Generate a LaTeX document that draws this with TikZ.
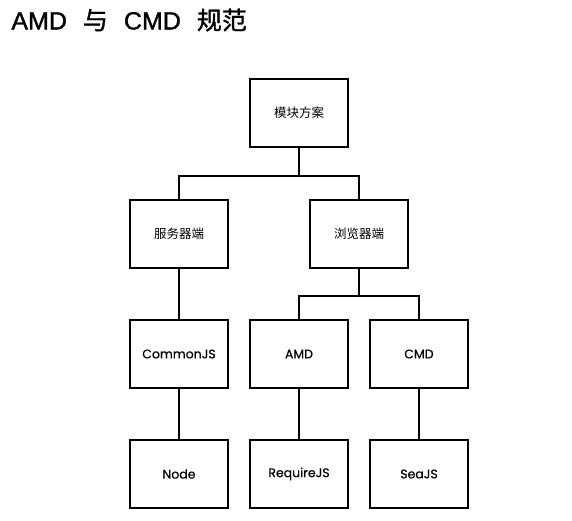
\documentclass[tikz,border=0pt]{standalone}
\usepackage{fontspec}
\newfontfamily\cjk{Noto Sans CJK SC}
\newfontfamily\cjkhead[FakeBold=1.2]{Noto Sans CJK SC}
\newfontfamily\lathead[FakeBold=1.2]{Liberation Sans}
\newfontfamily\latin[FakeBold=0.5]{Poppins}
\usetikzlibrary{positioning}

\begin{document}
\begin{tikzpicture}[x=1pt,y=-1pt,thick,
  box/.style={draw,line width=1.6pt,fill=white,minimum width=98pt,minimum height=68pt,inner sep=0pt},
  cn/.style={font=\cjk\fontsize{12.5}{15}\selectfont},
  en/.style={font=\latin\fontsize{12.5}{15}\selectfont},
  link/.style={line width=1.6pt}]
\useasboundingbox (0,0) rectangle (572,520);

\node[anchor=west,inner sep=0pt,font=\fontsize{25}{28}\selectfont] (title) at (11,20)
  {\lathead AMD\hspace{16pt}\cjkhead 与\hspace{16pt}\lathead CMD\hspace{16pt}\cjkhead 规范};

\node[box,cn] (root) at (299,113) {模块方案};
\node[box,cn] (server) at (179,234) {服务器端};
\node[box,cn] (browser) at (359,234) {浏览器端};
\node[box,en] (cjs) at (179,354) {CommonJS};
\node[box,en] (amd) at (299,354) {AMD};
\node[box,en] (cmd) at (419,354) {CMD};
\node[box,en] (node) at (179,474) {Node};
\node[box,en] (req) at (299,474) {RequireJS};
\node[box,en] (sea) at (419,474) {SeaJS};

\draw[link] (root.south) -- ++(0,28) coordinate (j1);
\draw[link] (server.north) |- (j1) -| (browser.north);
\draw[link] (server) -- (cjs);
\draw[link] (browser.south) -- ++(0,27) coordinate (j2);
\draw[link] (amd.north) |- (j2) -| (cmd.north);
\draw[link] (cjs) -- (node);
\draw[link] (amd) -- (req);
\draw[link] (cmd) -- (sea);
\end{tikzpicture}
\end{document}
